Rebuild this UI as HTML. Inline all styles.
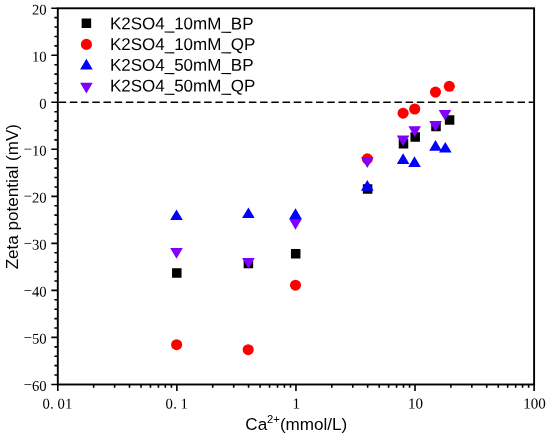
<!DOCTYPE html><html><head><meta charset="utf-8"><title>Zeta potential</title>
<style>html,body{margin:0;padding:0;background:#fff}svg{display:block}.s{font-family:"Liberation Sans",sans-serif;font-size:17.1px;fill:#000}.t{font-family:"Liberation Serif",serif;font-size:14.7px;fill:#000}.l{font-size:17px}</style></head><body>
<svg width="550" height="440" viewBox="0 0 550 440">
<rect width="550" height="440" fill="#fff"/>
<path d="M58.7 102.3H534.1" stroke="#000" stroke-width="1.5" stroke-dasharray="7.5 3.69" fill="none"/>
<path fill="#000" d="M172.05 268.25h9.50v9.50h-9.50zM243.65 258.75h9.50v9.50h-9.50zM290.95 249.05h9.50v9.50h-9.50zM362.85 184.25h9.50v9.50h-9.50zM398.75 138.95h9.50v9.50h-9.50zM410.45 132.35h9.50v9.50h-9.50zM431.25 121.85h9.50v9.50h-9.50zM444.85 115.25h9.50v9.50h-9.50zM81.65 18.55h9.50v9.50h-9.50z"/>
<g fill="#f00"><circle cx="176.6" cy="344.7" r="5.55"/><circle cx="248.2" cy="349.7" r="5.55"/><circle cx="295.5" cy="285.2" r="5.55"/><circle cx="367.3" cy="158.8" r="5.55"/><circle cx="403.1" cy="113.2" r="5.55"/><circle cx="414.7" cy="109.0" r="5.55"/><circle cx="435.5" cy="92.1" r="5.55"/><circle cx="449.3" cy="86.3" r="5.55"/><circle cx="86.4" cy="44.4" r="5.55"/></g>
<path fill="#00f" d="M176.50 209.40l6.30 10.70h-12.60zM248.40 207.40l6.30 10.70h-12.60zM295.50 208.20l6.30 10.70h-12.60zM367.30 180.00l6.30 10.70h-12.60zM403.10 153.20l6.30 10.70h-12.60zM414.50 156.20l6.30 10.70h-12.60zM435.50 140.00l6.30 10.70h-12.60zM445.30 141.90l6.30 10.70h-12.60zM86.40 58.70l6.30 10.70h-12.60z"/>
<path fill="#8000ff" d="M170.20 248.10h12.60l-6.30 10.70zM242.10 258.10h12.60l-6.30 10.70zM289.20 219.00h12.60l-6.30 10.70zM361.00 157.20h12.60l-6.30 10.70zM396.80 135.60h12.60l-6.30 10.70zM408.40 126.20h12.60l-6.30 10.70zM429.20 121.10h12.60l-6.30 10.70zM438.70 109.90h12.60l-6.30 10.70zM80.10 82.80h12.60l-6.30 10.70z"/>
<rect x="57.8" y="8.3" width="476.3" height="376.2" fill="none" stroke="#000" stroke-width="1.9"/>
<path d="M57.80 8.25h-6.50M57.80 17.66h-3.40M57.80 27.06h-3.40M57.80 36.47h-3.40M57.80 45.87h-3.40M57.80 55.27h-6.50M57.80 64.68h-3.40M57.80 74.09h-3.40M57.80 83.49h-3.40M57.80 92.89h-3.40M57.80 102.30h-6.50M57.80 111.70h-3.40M57.80 121.11h-3.40M57.80 130.51h-3.40M57.80 139.92h-3.40M57.80 149.32h-6.50M57.80 158.73h-3.40M57.80 168.13h-3.40M57.80 177.54h-3.40M57.80 186.94h-3.40M57.80 196.35h-6.50M57.80 205.75h-3.40M57.80 215.16h-3.40M57.80 224.56h-3.40M57.80 233.97h-3.40M57.80 243.38h-6.50M57.80 252.78h-3.40M57.80 262.19h-3.40M57.80 271.59h-3.40M57.80 281.00h-3.40M57.80 290.40h-6.50M57.80 299.81h-3.40M57.80 309.21h-3.40M57.80 318.62h-3.40M57.80 328.02h-3.40M57.80 337.42h-6.50M57.80 346.83h-3.40M57.80 356.23h-3.40M57.80 365.64h-3.40M57.80 375.05h-3.40M57.80 384.45h-6.50M57.80 384.50v6.4M93.65 384.50v3.3M114.61 384.50v3.3M129.49 384.50v3.3M141.03 384.50v3.3M150.46 384.50v3.3M158.43 384.50v3.3M165.34 384.50v3.3M171.43 384.50v3.3M176.88 384.50v6.4M212.72 384.50v3.3M233.69 384.50v3.3M248.57 384.50v3.3M260.10 384.50v3.3M269.53 384.50v3.3M277.51 384.50v3.3M284.41 384.50v3.3M290.50 384.50v3.3M295.95 384.50v6.4M331.80 384.50v3.3M352.76 384.50v3.3M367.64 384.50v3.3M379.18 384.50v3.3M388.61 384.50v3.3M396.58 384.50v3.3M403.49 384.50v3.3M409.58 384.50v3.3M415.03 384.50v6.4M450.87 384.50v3.3M471.84 384.50v3.3M486.72 384.50v3.3M498.25 384.50v3.3M507.68 384.50v3.3M515.66 384.50v3.3M522.56 384.50v3.3M528.65 384.50v3.3M534.10 384.50v6.4" stroke="#000" stroke-width="1.6" fill="none"/>
<text class="t" x="46.7" y="14.45" text-anchor="end" transform="rotate(0.05 46.7 14.45)">20</text>
<text class="t" x="46.7" y="61.48" text-anchor="end" transform="rotate(0.05 46.7 61.48)">10</text>
<text class="t" x="46.7" y="108.50" text-anchor="end" transform="rotate(0.05 46.7 108.50)">0</text>
<text class="t" transform="rotate(0.05 46.7 155.52)"><tspan x="24.5" y="152.62" textLength="6.7" lengthAdjust="spacingAndGlyphs">–</tspan><tspan x="46.7" y="155.52" text-anchor="end">10</tspan></text>
<text class="t" transform="rotate(0.05 46.7 202.55)"><tspan x="24.5" y="199.65" textLength="6.7" lengthAdjust="spacingAndGlyphs">–</tspan><tspan x="46.7" y="202.55" text-anchor="end">20</tspan></text>
<text class="t" transform="rotate(0.05 46.7 249.57)"><tspan x="24.5" y="246.67" textLength="6.7" lengthAdjust="spacingAndGlyphs">–</tspan><tspan x="46.7" y="249.57" text-anchor="end">30</tspan></text>
<text class="t" transform="rotate(0.05 46.7 296.60)"><tspan x="24.5" y="293.70" textLength="6.7" lengthAdjust="spacingAndGlyphs">–</tspan><tspan x="46.7" y="296.60" text-anchor="end">40</tspan></text>
<text class="t" transform="rotate(0.05 46.7 343.62)"><tspan x="24.5" y="340.72" textLength="6.7" lengthAdjust="spacingAndGlyphs">–</tspan><tspan x="46.7" y="343.62" text-anchor="end">50</tspan></text>
<text class="t" transform="rotate(0.05 46.7 390.65)"><tspan x="24.5" y="387.75" textLength="6.7" lengthAdjust="spacingAndGlyphs">–</tspan><tspan x="46.7" y="390.65" text-anchor="end">60</tspan></text>
<text class="t" y="408.6" transform="rotate(0.05 58 408.6)"><tspan x="42.50">0</tspan><tspan x="50.10">.</tspan><tspan x="57.50">0</tspan><tspan x="65.00">1</tspan></text>
<text class="t" y="408.6" transform="rotate(0.05 177 408.6)"><tspan x="165.62">0</tspan><tspan x="173.22">.</tspan><tspan x="180.62">1</tspan></text>
<text class="t" style="font-size:15.05px" x="296.3" y="408.6" text-anchor="middle" transform="rotate(0.05 295.9 408.6)">1</text>
<text class="t" style="font-size:15.05px" x="415.4" y="408.6" text-anchor="middle" transform="rotate(0.05 415.0 408.6)">10</text>
<text class="t" style="font-size:15.05px" x="534.5" y="408.6" text-anchor="middle" transform="rotate(0.05 534.1 408.6)">100</text>
<text class="s l" x="109.9" y="29.30" transform="rotate(0.05 109.9 29.30)">K2SO4_10mM_BP</text>
<text class="s l" x="109.9" y="50.00" transform="rotate(0.05 109.9 50.00)">K2SO4_10mM_QP</text>
<text class="s l" x="109.9" y="70.70" transform="rotate(0.05 109.9 70.70)">K2SO4_50mM_BP</text>
<text class="s l" x="109.9" y="91.40" transform="rotate(0.05 109.9 91.40)">K2SO4_50mM_QP</text>
<text class="s" transform="translate(17.6 196.7) rotate(-90)" text-anchor="middle">Zeta potential (mV)</text>
<text class="s" y="430.2"><tspan x="245.3">Ca</tspan><tspan font-size="11.2px" x="267" dy="-7.2">2</tspan><tspan font-size="11.2px" x="273.2">+</tspan><tspan x="279.9" dy="7.2">(mmol/L)</tspan></text>
</svg></body></html>
